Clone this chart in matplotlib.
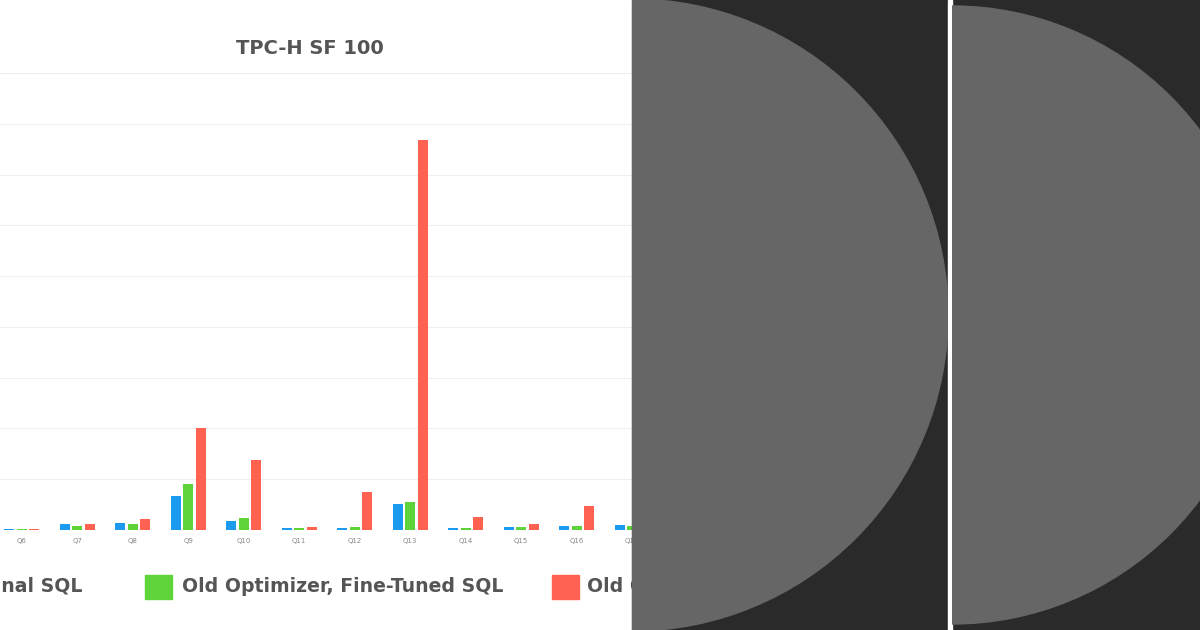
import matplotlib
matplotlib.use("Agg")
import matplotlib.pyplot as plt
from matplotlib.patches import Rectangle, Circle
import numpy as np

queries = ["Q6","Q7","Q8","Q9","Q10","Q11","Q12","Q13","Q14","Q15","Q16","Q17"]
new_orig = [0.01,0.12,0.14,0.67,0.18,0.03,0.04,0.51,0.04,0.06,0.07,0.10]
old_tuned = [0.01,0.08,0.12,0.91,0.24,0.03,0.06,0.55,0.04,0.06,0.07,0.08]
old_orig = [0.01,0.12,0.22,2.00,1.38,0.06,0.75,7.69,0.26,0.12,0.47,0.10]
labels = ["New Optimizer, Original SQL","Old Optimizer, Fine-Tuned SQL","Old Optimizer, Original SQL"]
colors = ["#1a9bf0","#5fd43a","#ff6250"]

fig = plt.figure(figsize=(12,6.3), dpi=100)
fig.patch.set_facecolor("white")
ax = fig.add_axes([0, 100/630, 632/1200, 457/630])
x = np.arange(len(queries))
sp = 55.6
w = 10/sp; off = 12.5/sp
for i,(vals,c) in enumerate(zip([new_orig,old_tuned,old_orig],colors)):
    ax.bar(x+(i-1)*off, vals, width=w, color=c, zorder=3)
ax.set_xlim(-22/sp, (632-22)/sp)
ax.set_ylim(0,9)
ax.set_yticks(np.arange(0,10))
ax.yaxis.grid(True, color="#eeeeee", lw=0.8)
ax.tick_params(axis="y", length=0, labelleft=False)
ax.set_xticks(x)
ax.set_xticklabels(queries, fontsize=5, color="#888888")
ax.tick_params(axis="x", length=0, pad=6)
for s in ax.spines.values(): s.set_visible(False)

fig.text(310/1200, 1-48/630, "TPC-H SF 100", ha="center", va="center",
         fontsize=14, fontweight="bold", color="#555555")

# legend
ly = 1-587/630
fs = 13.6
fig.text(82/1200, ly, labels[0], ha="right", va="center", fontsize=fs, fontweight="bold", color="#555555")
fig.add_artist(Rectangle((145/1200, ly-12/630), 27/1200, 24/630, transform=fig.transFigure, color=colors[1]))
fig.text(182/1200, ly, labels[1], ha="left", va="center", fontsize=fs, fontweight="bold", color="#555555")
fig.add_artist(Rectangle((552/1200, ly-12/630), 27/1200, 24/630, transform=fig.transFigure, color=colors[2]))
fig.text(587/1200, ly, labels[2], ha="left", va="center", fontsize=fs, fontweight="bold", color="#555555")

# overlay panels
ov = fig.add_axes([0,0,1,1], zorder=10)
ov.set_xlim(0,1200); ov.set_ylim(0,630); ov.axis("off")
ov.patch.set_alpha(0)
ov.add_patch(Rectangle((632,0), 568, 630, color="#2a2a2a"))
ov.add_patch(Rectangle((948,0), 4, 630, color="white"))
r1 = Rectangle((632,0), 316, 630, transform=ov.transData)
c1 = Circle((632,315), 316, color="#666666"); ov.add_patch(c1); c1.set_clip_path(r1)
r2 = Rectangle((952,0), 248, 630, transform=ov.transData)
c2 = Circle((952,315), 309, color="#666666"); ov.add_patch(c2); c2.set_clip_path(r2)

fig.savefig("out.png", dpi=100)
